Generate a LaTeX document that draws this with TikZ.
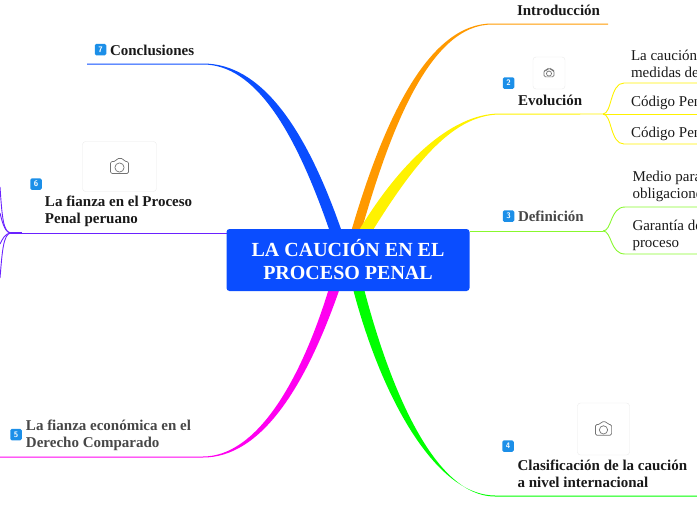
\documentclass[tikz,border=0pt]{standalone}
\usepackage{fontspec}
\setmainfont{Liberation Serif}
\usetikzlibrary{positioning,backgrounds}
\definecolor{mainblue}{HTML}{0A4DFF}
\definecolor{badgeblue}{HTML}{1C8FE8}
\definecolor{branchorange}{HTML}{FF9900}
\definecolor{branchpink}{HTML}{FF00F0}
\definecolor{branchlime}{HTML}{88F82E}
\definecolor{branchviolet}{HTML}{6A22FF}

\begin{document}
\begin{tikzpicture}[
            x=1pt,y=-1pt,
            every node/.style={inner sep=0pt,outer sep=0pt},
            topic/.style={align=left, anchor=west, font=\bfseries\fontsize{15}{17}\selectfont, text=black!90},
            topicgrey/.style={topic, text=black!72},
            subtopic/.style={align=left, anchor=west, font=\fontsize{15}{17}\selectfont, text=black!90},
            badge/.style={fill=badgeblue, rounded corners=1.5pt, minimum size=11.5pt, text=white, font=\sffamily\bfseries\fontsize{8}{8}\selectfont},
            photo/.style={draw=black!8, fill=white, rounded corners=3pt},
            to/.style={line width=0.9pt},
            taper/.style={line width=0.3pt, line join=round}
  ]
  \useasboundingbox (0,0) rectangle (697,520);

  \node[fill=mainblue, rounded corners=3pt, minimum width=243pt, minimum height=62pt, align=center, text=white, font=\bfseries\fontsize{20}{23}\selectfont] (main) at (348,260) {LA CAUCIÓN EN EL\hspace{9pt}\\PROCESO PENAL};

  % right side
  \node[topic] (intro) at (517,10.5) {Introducción};
  \node[topic] (evol) at (518,100.5) {Evolución};
  \node[topicgrey] (defin) at (518,216.5) {Definición};
  \node[topic] (clasif) at (517.5,474) {Clasificación de la caución\\a nivel internacional};
  \node[subtopic] (evol a) at (631,63.5) {La caución\\medidas de};
  \node[subtopic] (evol b) at (631,102.5) {Código Pen};
  \node[subtopic] (evol c) at (631,133.5) {Código Pen};
  \node[subtopic] (defin a) at (632.5,186.5) {Medio para\\obligaciones};
  \node[subtopic] (defin b) at (632.5,235.5) {Garantía de\\proceso};

  % left side
  \node[topic] (concl) at (110,50.5) {Conclusiones};
  \node[topic] (fianza) at (45,211) {La fianza en el Proceso\\Penal peruano};
  \node[topicgrey] (compar) at (26,435) {La fianza económica en el\\Derecho Comparado};

  % badges
  \node[badge] (b2) at (508.5,83) {2};
  \node[badge] (b3) at (508.5,216) {3};
  \node[badge] (b4) at (508,446) {4};
  \node[badge] (b5) at (16,434.5) {5};
  \node[badge] (b6) at (36,184) {6};
  \node[badge] (b7) at (100.5,49.5) {7};

  % empty pictures
  \node[photo, minimum width=32pt, minimum height=32pt] (pic2) at (549,73) {};
  \node[photo, minimum width=74pt, minimum height=50pt] (pic6) at (119.5,166.5) {};
  \node[photo, minimum width=52pt, minimum height=52pt] (pic4) at (603.5,429) {};
  \foreach \p/\s in {pic2/0.55, pic6/1, pic4/0.9} {
    \begin{scope}[shift={(\p)}, scale=\s, draw=black!55, line width=0.7pt]
      \draw[rounded corners=1.5pt] (-9,-5) -- (-4,-5) -- (-2.5,-8) -- (3.5,-8) -- (5,-5) -- (9,-5) -- (9,7) -- (-9,7) -- cycle;
      \draw (0,1) circle (4.6);
    \end{scope}
  }

  \begin{pgfonlayer}{background}
    % thick branches
    \fill[branchorange, taper] (608,24.5) -- (492,24.5) .. controls (430,24.5) and (390,130) .. (361,232) -- (351,232) .. controls (385,115) and (430,23.5) .. (492,23.5) -- (608,23.5) -- cycle;
    \fill[yellow, taper] (580,114.5) -- (500,114.5) .. controls (450,114.5) and (410,170) .. (368,238) -- (358,232) .. controls (398,165) and (450,113.5) .. (500,113.5) -- (580,113.5) -- cycle;
    \fill[green, taper] (697,496.5) -- (495,496.5) .. controls (435,496.5) and (390,390) .. (363,285) -- (352,285) .. controls (380,395) and (435,495.5) .. (495,495.5) -- (697,495.5) -- cycle;
    \fill[branchpink, taper] (0,457.5) -- (203,457.5) .. controls (260,457.5) and (305,390) .. (341,285) -- (330,285) .. controls (300,385) and (255,456.5) .. (203,456.5) -- (0,456.5) -- cycle;
    \fill[mainblue, taper] (87,64.5) -- (203,64.5) .. controls (255,64.5) and (295,130) .. (330,232) -- (342,232) .. controls (305,125) and (260,63.5) .. (203,63.5) -- (87,63.5) -- cycle;

    % thin branches
    \draw[to, color=branchlime] ([yshift=29pt]main.east) -- (603,231);
    \draw[to, color=yellow] (580,114) -- (603,114) .. controls (612,114) and (610,83) .. (624,83) -- (697,83);
    \draw[to, color=yellow] (603,114) -- (697,114);
    \draw[to, color=yellow] (603,114) .. controls (612,114) and (610,144) .. (624,144) -- (697,144);
    \draw[to, color=branchlime] (603,231) .. controls (612,231) and (610,207) .. (625,207) -- (697,207);
    \draw[to, color=branchlime] (603,231) .. controls (612,231) and (610,254) .. (625,254) -- (697,254);
    \draw[to, color=branchviolet] ([yshift=27pt]main.west) -- (11,233);
    \draw[color=branchviolet, line width=1.6pt] (11,233) -- (22,233);
    \draw[to, color=branchviolet] (11,233) .. controls (3,233) and (2,215) .. (0,187);
    \draw[to, color=branchviolet] (11,233) .. controls (6,233) and (3,226) .. (0,213);
    \draw[to, color=branchviolet] (11,233) .. controls (5,233) and (2,240) .. (0,244);
    \draw[to, color=branchviolet] (11,233) .. controls (3,233) and (2,255) .. (0,278);
  \end{pgfonlayer}

\end{tikzpicture}
\end{document}
